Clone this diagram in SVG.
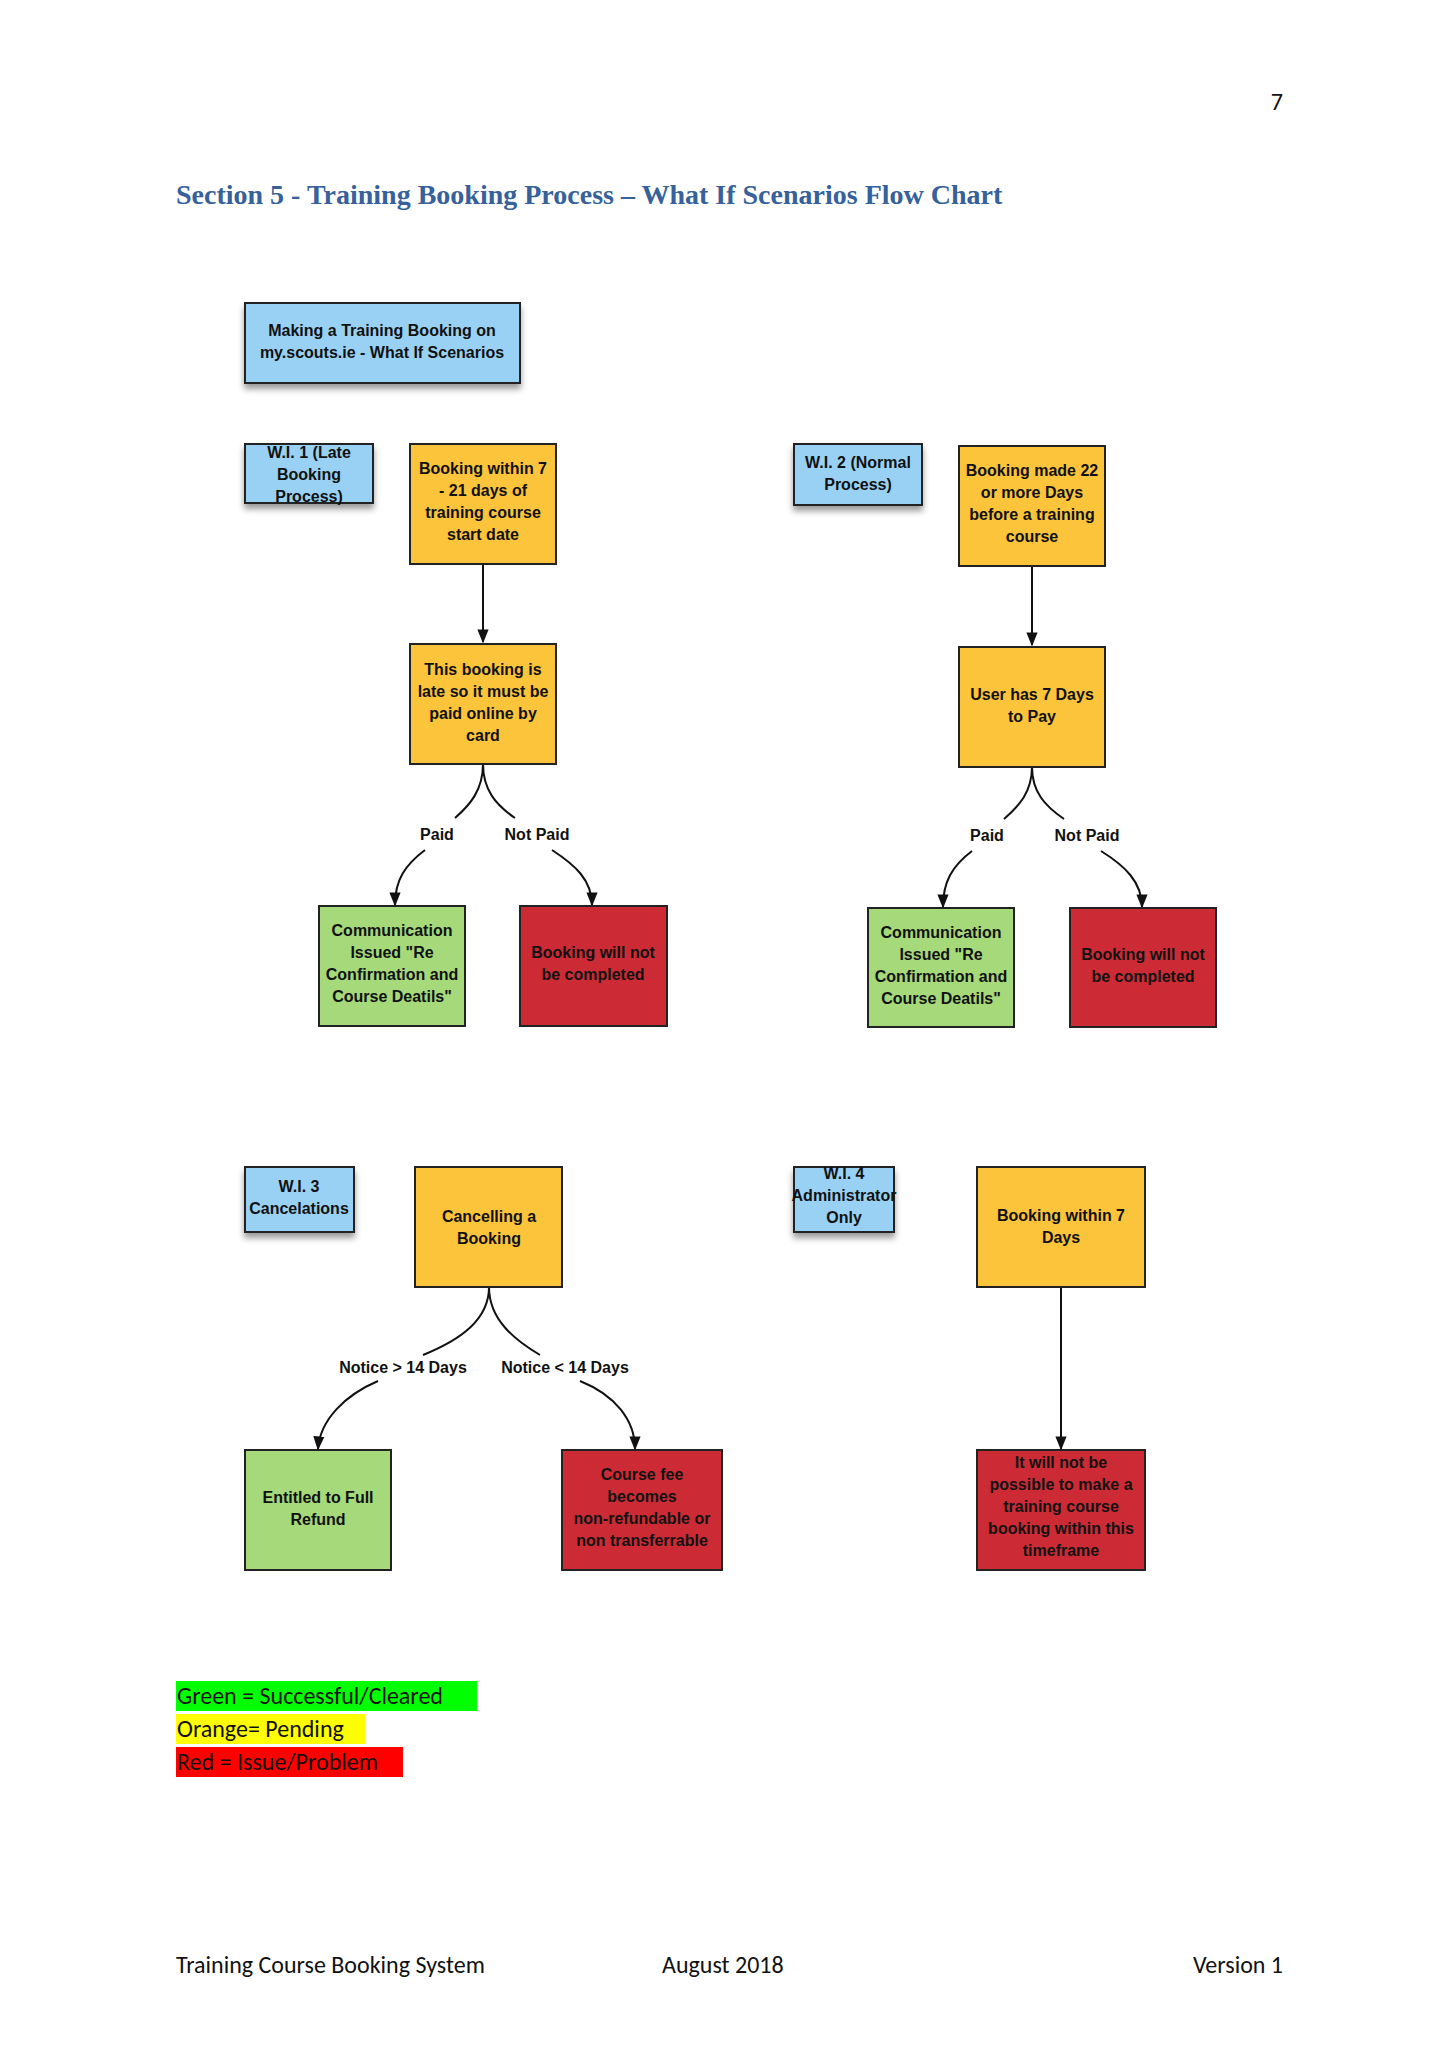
<svg xmlns="http://www.w3.org/2000/svg" width="1449" height="2048" viewBox="0 0 1449 2048">
<style>
.b{fill:#99d1f5;stroke:#222;stroke-width:2;filter:url(#sh)}
.o{fill:#fcc43b;stroke:#222;stroke-width:2}
.g{fill:#a5d97a;stroke:#222;stroke-width:2}
.r{fill:#cc2b36;stroke:#222;stroke-width:2}
.t{font-family:"Liberation Sans",Arial,sans-serif;font-weight:bold;font-size:16px;fill:#111;text-anchor:middle}
.c{fill:none;stroke:#111;stroke-width:2}
.f{font-family:Carlito,"Liberation Sans",sans-serif;font-size:24px;fill:#111}
</style>
<defs>
<filter id="sh" x="-20%" y="-20%" width="150%" height="160%"><feDropShadow dx="0" dy="5" stdDeviation="3" flood-color="#000" flood-opacity="0.4"/></filter>
<marker id="a" viewBox="0 0 10 10" refX="9" refY="5" markerWidth="7" markerHeight="8" orient="auto"><path d="M0,1 L10,5 L0,9 z" fill="#111"/></marker>
</defs>
<rect width="1449" height="2048" fill="#fff"/>
<text x="1283" y="110" class="f" text-anchor="end">7</text>
<text x="176" y="204" font-family="Liberation Serif,serif" font-weight="bold" font-size="28" fill="#36619a">Section 5 - Training Booking Process – What If Scenarios Flow Chart</text>

<g id="connectors">
<path class="c" marker-end="url(#a)" d="M483,564 V642"/>
<path class="c" d="M483,764 C483,790 470,805 455,818"/>
<path class="c" marker-end="url(#a)" d="M425,850 C405,865 395,880 395,905"/>
<path class="c" d="M483,764 C483,790 496,805 515,818"/>
<path class="c" marker-end="url(#a)" d="M552,850 C575,865 592,880 592,905"/>
<path class="c" marker-end="url(#a)" d="M1032,566 V645"/>
<path class="c" d="M1032,767 C1032,792 1019,806 1004,819"/>
<path class="c" marker-end="url(#a)" d="M972,851 C952,866 943,882 943,907"/>
<path class="c" d="M1032,767 C1032,792 1045,806 1064,819"/>
<path class="c" marker-end="url(#a)" d="M1101,851 C1125,866 1142,882 1142,907"/>
<path class="c" d="M489,1287 C489,1320 460,1340 423,1355"/>
<path class="c" marker-end="url(#a)" d="M378,1381 C345,1395 320,1420 318,1449"/>
<path class="c" d="M489,1287 C489,1320 515,1340 540,1355"/>
<path class="c" marker-end="url(#a)" d="M580,1381 C615,1395 635,1420 635,1449"/>
<path class="c" marker-end="url(#a)" d="M1061,1287 V1449"/>
</g>

<g id="main"><rect class="b" x="245" y="303" width="275" height="80"/><text class="t" x="382" y="336">Making a Training Booking on</text><text class="t" x="382" y="358">my.scouts.ie - What If Scenarios</text></g>

<g id="wi1"><rect class="b" x="245" y="444" width="128" height="59"/><text class="t" x="309" y="458">W.I. 1 (Late</text><text class="t" x="309" y="480">Booking</text><text class="t" x="309" y="502">Process)</text></g>
<g id="n1"><rect class="o" x="410" y="444" width="146" height="120"/><text class="t" x="483" y="474">Booking within 7</text><text class="t" x="483" y="496">- 21 days of</text><text class="t" x="483" y="518">training course</text><text class="t" x="483" y="540">start date</text></g>
<g id="n2"><rect class="o" x="410" y="644" width="146" height="120"/><text class="t" x="483" y="675">This booking is</text><text class="t" x="483" y="697">late so it must be</text><text class="t" x="483" y="719">paid online by</text><text class="t" x="483" y="741">card</text></g>
<text class="t" x="437" y="840">Paid</text><text class="t" x="537" y="840">Not Paid</text>
<g id="n3"><rect class="g" x="319" y="906" width="146" height="120"/><text class="t" x="392" y="936">Communication</text><text class="t" x="392" y="958">Issued "Re</text><text class="t" x="392" y="980">Confirmation and</text><text class="t" x="392" y="1002">Course Deatils"</text></g>
<g id="n4"><rect class="r" x="520" y="906" width="147" height="120"/><text class="t" x="593" y="958">Booking will not</text><text class="t" x="593" y="980">be completed</text></g>

<g id="wi2"><rect class="b" x="794" y="444" width="128" height="61"/><text class="t" x="858" y="468">W.I. 2 (Normal</text><text class="t" x="858" y="490">Process)</text></g>
<g id="n5"><rect class="o" x="959" y="446" width="146" height="120"/><text class="t" x="1032" y="476">Booking made 22</text><text class="t" x="1032" y="498">or more Days</text><text class="t" x="1032" y="520">before a training</text><text class="t" x="1032" y="542">course</text></g>
<g id="n6"><rect class="o" x="959" y="647" width="146" height="120"/><text class="t" x="1032" y="700">User has 7 Days</text><text class="t" x="1032" y="722">to Pay</text></g>
<text class="t" x="987" y="841">Paid</text><text class="t" x="1087" y="841">Not Paid</text>
<g id="n7"><rect class="g" x="868" y="908" width="146" height="119"/><text class="t" x="941" y="938">Communication</text><text class="t" x="941" y="960">Issued "Re</text><text class="t" x="941" y="982">Confirmation and</text><text class="t" x="941" y="1004">Course Deatils"</text></g>
<g id="n8"><rect class="r" x="1070" y="908" width="146" height="119"/><text class="t" x="1143" y="960">Booking will not</text><text class="t" x="1143" y="982">be completed</text></g>

<g id="wi3"><rect class="b" x="245" y="1167" width="109" height="65"/><text class="t" x="299" y="1192">W.I. 3</text><text class="t" x="299" y="1214">Cancelations</text></g>
<g id="n9"><rect class="o" x="415" y="1167" width="147" height="120"/><text class="t" x="489" y="1222">Cancelling a</text><text class="t" x="489" y="1244">Booking</text></g>
<text class="t" x="403" y="1373">Notice &gt; 14 Days</text><text class="t" x="565" y="1373">Notice &lt; 14 Days</text>
<g id="n10"><rect class="g" x="245" y="1450" width="146" height="120"/><text class="t" x="318" y="1503">Entitled to Full</text><text class="t" x="318" y="1525">Refund</text></g>
<g id="n11"><rect class="r" x="562" y="1450" width="160" height="120"/><text class="t" x="642" y="1480">Course fee</text><text class="t" x="642" y="1502">becomes</text><text class="t" x="642" y="1524">non-refundable or</text><text class="t" x="642" y="1546">non transferrable</text></g>

<g id="wi4"><rect class="b" x="794" y="1167" width="100" height="65"/><text class="t" x="844" y="1179">W.I. 4</text><text class="t" x="844" y="1201">Administrator</text><text class="t" x="844" y="1223">Only</text></g>
<g id="n12"><rect class="o" x="977" y="1167" width="168" height="120"/><text class="t" x="1061" y="1221">Booking within 7</text><text class="t" x="1061" y="1243">Days</text></g>
<g id="n13"><rect class="r" x="977" y="1450" width="168" height="120"/><text class="t" x="1061" y="1468">It will not be</text><text class="t" x="1061" y="1490">possible to make a</text><text class="t" x="1061" y="1512">training course</text><text class="t" x="1061" y="1534">booking within this</text><text class="t" x="1061" y="1556">timeframe</text></g>

<rect x="176" y="1681" width="301" height="30" fill="#00ff00"/>
<rect x="176" y="1714" width="189" height="30" fill="#ffff00"/>
<rect x="176" y="1747" width="227" height="30" fill="#ff0000"/>
<text class="f" x="177" y="1704">Green = Successful/Cleared</text>
<text class="f" x="177" y="1737">Orange= Pending</text>
<text class="f" x="177" y="1770">Red = Issue/Problem</text>

<text class="f" x="176" y="1973">Training Course Booking System</text>
<text class="f" x="662" y="1973">August 2018</text>
<text class="f" x="1283" y="1973" text-anchor="end">Version 1</text>
</svg>
